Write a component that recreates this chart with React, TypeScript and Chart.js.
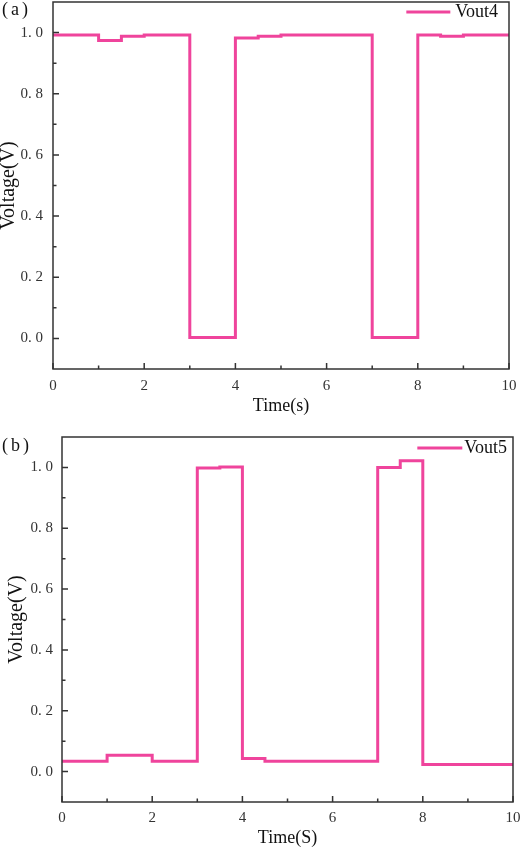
import React, { useEffect, useRef } from "react";
import { Chart, registerables } from "chart.js";

Chart.register(...registerables);

// ---- data ----
const TIME_A = [0, 1, 1.5, 2, 3, 4, 4.5, 5, 7, 8, 8.5, 9, 10];
const VOUT4 = [0.992, 0.974, 0.988, 0.992, 0.003, 0.982, 0.988, 0.992, 0.003, 0.992, 0.988, 0.992, 0.992];
const TIME_B = [0, 1, 2, 3, 3.5, 4, 4.5, 7, 7.5, 8, 10];
const VOUT5 = [0.034, 0.054, 0.034, 0.998, 1.001, 0.043, 0.034, 1.0, 1.022, 0.023, 0.023];
const X_MAJOR = [0, 2, 4, 6, 8, 10];
const X_MINOR = [1, 3, 5, 7, 9];
const Y_MAJOR = [0, 0.2, 0.4, 0.6, 0.8, 1.0];
const Y_MINOR = [0.1, 0.3, 0.5, 0.7, 0.9];

const PINK = "#EF449C";
const AXIS = "#333333";
const FONT = '"Liberation Serif", "Times New Roman", serif';

const frameTicksPlugin = {
  id: "frameTicks",
  afterDatasetsDraw(chart: any) {
    const { ctx, chartArea: a, scales } = chart;
    const x = scales.x;
    const y = scales.y;
    ctx.save();
    ctx.strokeStyle = AXIS;
    ctx.lineWidth = 1.5;
    ctx.strokeRect(a.left, a.top, a.right - a.left, a.bottom - a.top);
    ctx.beginPath();
    const tick = (vals: number[], len: number) => {
      vals.forEach((v) => {
        const px = x.getPixelForValue(v);
        ctx.moveTo(px, a.bottom);
        ctx.lineTo(px, a.bottom - len);
      });
    };
    const ytick = (vals: number[], len: number) => {
      vals.forEach((v) => {
        const py = y.getPixelForValue(v);
        ctx.moveTo(a.left, py);
        ctx.lineTo(a.left + len, py);
      });
    };
    tick(X_MAJOR, 6);
    tick(X_MINOR, 3.5);
    ytick(Y_MAJOR, 6);
    ytick(Y_MINOR, 3.5);
    ctx.stroke();
    ctx.restore();
  },
};

const insideLegendPlugin = {
  id: "insideLegend",
  afterDraw(chart: any, _args: any, opts: any) {
    const ds = chart.data.datasets[0];
    const { ctx, chartArea: a } = chart;
    ctx.save();
    ctx.font = `18px ${FONT}`;
    ctx.fillStyle = "#111";
    ctx.textBaseline = "middle";
    ctx.textAlign = "left";
    const tw = ctx.measureText(ds.label).width;
    const tx = a.right - opts.right - tw;
    const cy = a.top + opts.top;
    ctx.fillText(ds.label, tx, cy);
    ctx.strokeStyle = ds.borderColor;
    ctx.lineWidth = ds.borderWidth;
    ctx.beginPath();
    ctx.moveTo(tx - opts.gap - opts.len, cy);
    ctx.lineTo(tx - opts.gap, cy);
    ctx.stroke();
    ctx.restore();
  },
};

type PanelCfg = {
  times: number[];
  values: number[];
  label: string;
  xTitle: string;
  pad: { left: number; right: number; top: number; bottom: number };
  yWidth: number;
  xHeight: number;
  xTickPad: number;
  yTickPad: number;
  xTitlePad: number;
  yTitlePad: number;
  legend: { right: number; top: number; gap: number; len: number };
};

const zeroScalePadding = (s: any) => {
  s.paddingTop = 0;
  s.paddingBottom = 0;
  s.paddingLeft = 0;
  s.paddingRight = 0;
};

function Panel({ cfg }: { cfg: PanelCfg }) {
  const ref = useRef<HTMLCanvasElement | null>(null);
  useEffect(() => {
    if (!ref.current) return;
    const chart = new Chart(ref.current, {
      type: "line",
      data: {
        datasets: [
          {
            label: cfg.label,
            data: cfg.times.map((t, i) => ({ x: t, y: cfg.values[i] })),
            borderColor: PINK,
            backgroundColor: PINK,
            borderWidth: 3,
            pointRadius: 0,
            stepped: "before",
            fill: false,
          },
        ],
      },
      options: {
        animation: false,
        responsive: false,
        devicePixelRatio: 1,
        layout: { padding: cfg.pad },
        plugins: {
          legend: { display: false },
          tooltip: { enabled: false },
          insideLegend: cfg.legend,
        } as any,
        scales: {
          x: {
            type: "linear",
            min: 0,
            max: 10,
            grid: { display: false, drawTicks: false },
            border: { display: false },
            afterBuildTicks: (s: any) => {
              s.ticks = X_MAJOR.map((v) => ({ value: v }));
            },
            afterFit: (s: any) => {
              s.height = cfg.xHeight;
              zeroScalePadding(s);
            },
            ticks: {
              color: AXIS,
              padding: cfg.xTickPad,
              maxRotation: 0,
              font: { family: FONT, size: 15 },
              callback: (v: any) => String(v),
            },
            title: {
              display: true,
              text: cfg.xTitle,
              color: "#111",
              padding: { top: 0, bottom: cfg.xTitlePad },
              font: { family: FONT, size: 18, lineHeight: 1 },
            },
          },
          y: {
            type: "linear",
            min: -0.1,
            max: 1.1,
            grid: { display: false, drawTicks: false },
            border: { display: false },
            afterBuildTicks: (s: any) => {
              s.ticks = Y_MAJOR.map((v) => ({ value: v }));
            },
            afterFit: (s: any) => {
              s.width = cfg.yWidth;
              zeroScalePadding(s);
            },
            ticks: {
              color: AXIS,
              padding: cfg.yTickPad,
              font: { family: FONT, size: 15 },
              callback: (v: any) => Number(v).toFixed(1).replace(".", ". "),
            },
            title: {
              display: true,
              text: "Voltage(V)",
              color: "#111",
              padding: { top: cfg.yTitlePad, bottom: 0 },
              font: { family: FONT, size: 20, lineHeight: 1 },
            },
          },
        },
      } as any,
      plugins: [frameTicksPlugin, insideLegendPlugin],
    });
    return () => chart.destroy();
  }, [cfg]);
  return <canvas ref={ref} width={520} height={424} style={{ display: "block", width: 520, height: 424 }} />;
}

const PANEL_A: PanelCfg = {
  times: TIME_A,
  values: VOUT4,
  label: "Vout4",
  xTitle: "Time(s)",
  pad: { left: 0, right: 11, top: 2, bottom: 0 },
  yWidth: 53,
  xHeight: 55,
  xTickPad: 8,
  yTickPad: 10,
  xTitlePad: 9,
  yTitlePad: -1,
  legend: { right: 11, top: 10, gap: 5, len: 44 },
};

const PANEL_B: PanelCfg = {
  times: TIME_B,
  values: VOUT5,
  label: "Vout5",
  xTitle: "Time(S)",
  pad: { left: 0, right: 7, top: 13, bottom: 0 },
  yWidth: 62,
  xHeight: 46,
  xTickPad: 7,
  yTickPad: 9,
  xTitlePad: 1,
  yTitlePad: 7,
  legend: { right: 6, top: 11, gap: 2, len: 45 },
};

const labelStyle: React.CSSProperties = {
  position: "absolute",
  fontFamily: FONT,
  fontSize: 18,
  letterSpacing: 3,
  color: "#111",
  lineHeight: "18px",
};

export default function App() {
  return (
    <div style={{ position: "absolute", left: 0, top: 0, width: 520, height: 848, background: "#fff" }}>
      <div style={{ position: "relative", width: 520, height: 424 }}>
        <Panel cfg={PANEL_A} />
        <div style={{ ...labelStyle, left: 2, top: 0 }}>(a)</div>
      </div>
      <div style={{ position: "relative", width: 520, height: 424 }}>
        <Panel cfg={PANEL_B} />
        <div style={{ ...labelStyle, left: 2, top: 12 }}>(b)</div>
      </div>
    </div>
  );
}
